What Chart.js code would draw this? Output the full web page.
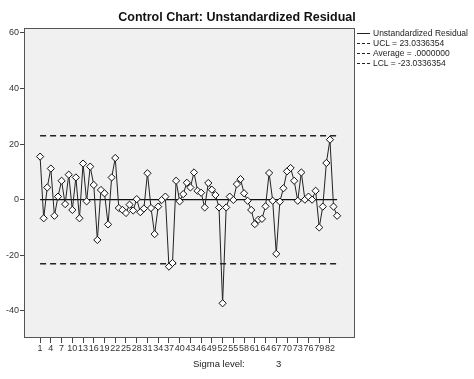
<!DOCTYPE html>
<html><head><meta charset="utf-8">
<script src="https://cdn.jsdelivr.net/npm/chart.js@4"></script>
<style>
html,body{margin:0;padding:0;background:#fff;}
#wrap{position:relative;width:474px;height:379px;font-family:"Liberation Sans",Arial,sans-serif;color:#222;}
canvas{position:absolute;left:0;top:0;}
#title{position:absolute;left:0;width:474px;top:10px;text-align:center;font-weight:bold;font-size:12.5px;color:#111;}
#legend{position:absolute;left:357px;top:28px;font-size:8.5px;line-height:10px;}
#legend div{white-space:nowrap;display:flex;align-items:center;}
#legend span.s{display:inline-block;width:13px;margin-right:3px;border-top:1.5px solid #222;}
#legend span.d{display:inline-block;width:13px;margin-right:3px;border-top:1.5px dashed #222;}
#sigma{position:absolute;left:193px;top:358px;font-size:9.5px;}
#sigv{position:absolute;left:276px;top:358px;font-size:9.5px;}
</style></head>
<body><div id="wrap">
<canvas id="c" width="474" height="379"></canvas>
<div id="title">Control Chart: Unstandardized Residual</div>
<div id="legend">
<div><span class="s"></span>Unstandardized Residual</div>
<div><span class="d"></span>UCL = 23.0336354</div>
<div><span class="d"></span>Average = .0000000</div>
<div><span class="d"></span>LCL = -23.0336354</div>
</div>
<div id="sigma">Sigma level:</div>
<div id="sigv">3</div>
</div>
<script>
const residuals = [15.5,-6.7,4.4,11.2,-5.8,1.1,6.8,-1.6,9.0,-3.7,8.0,-6.7,13.0,-0.6,11.9,5.3,-14.5,3.5,2.3,-8.9,
8.0,15.0,-3.0,-3.7,-4.8,-1.8,-3.9,0.2,-4.5,-3.2,9.5,-3.0,-12.4,-2.5,-0.1,1.1,-24.1,-22.8,6.8,-0.6,
2.0,6.1,4.4,9.8,3.2,2.5,-2.8,6.0,3.6,1.7,-2.8,-37.3,-2.8,1.1,-0.1,5.6,7.4,2.3,-0.4,-3.7,
-8.8,-7.2,-6.9,-2.4,9.6,-0.4,-19.5,-0.7,4.1,10.2,11.4,6.8,-0.4,9.8,0,1.1,0,3.2,-10.0,-2.5,
13.2,21.6,-2.5,-5.8];
const ucl = 23.0336354, avg = 0, lcl = -23.0336354;
const xTickLabels = [1,4,7,10,13,16,19,22,25,28,31,34,37,40,43,46,49,52,55,58,61,64,67,70,73,76,79,82];
const yTickLabels = [60,40,20,0,-20,-40];

const n = residuals.length;
const resData = residuals.map((v,i)=>({x:i+1,y:v}));
const hline = v => [{x:1,y:v},{x:n,y:v}];

const bgPlugin = {
  id:'bg',
  beforeDraw(chart){
    const {ctx,chartArea:a} = chart;
    ctx.save();
    ctx.fillStyle = '#f0f0f0';
    ctx.fillRect(a.left,a.top,a.right-a.left,a.bottom-a.top);
    ctx.restore();
  },
  afterDraw(chart){
    const {ctx,chartArea:a} = chart;
    ctx.save();
    ctx.strokeStyle = '#555';
    ctx.lineWidth = 1;
    ctx.strokeRect(a.left+0.5,a.top+0.5,a.right-a.left-1,a.bottom-a.top-1);
    ctx.restore();
  }
};

new Chart(document.getElementById('c'),{
  type:'line',
  data:{datasets:[
    {data:resData,borderColor:'#222',borderWidth:1,pointStyle:'rectRot',pointRadius:3.6,
     pointBackgroundColor:'#fff',pointBorderColor:'#111',pointBorderWidth:1,tension:0,order:0},
    {data:hline(ucl),borderColor:'#222',borderWidth:1.5,borderDash:[6,4],pointRadius:0,order:1},
    {data:hline(avg),borderColor:'#111',borderWidth:1.2,pointRadius:0,order:1},
    {data:hline(lcl),borderColor:'#222',borderWidth:1.5,borderDash:[6,4],pointRadius:0,order:1}
  ]},
  options:{
    responsive:false,animation:false,
    layout:{padding:{left:0,right:119,top:28,bottom:27}},
    plugins:{legend:{display:false},tooltip:{enabled:false}},
    scales:{
      x:{type:'linear',min:-3.5,max:89,
        afterBuildTicks(s){s.ticks = xTickLabels.map(v=>({value:v}));},
        afterFit(s){s.height = 14;},
        grid:{drawOnChartArea:false,drawTicks:true,tickLength:5,color:'#444'},
        border:{display:false},
        ticks:{autoSkip:false,maxRotation:0,padding:0,color:'#333',font:{family:'Liberation Sans, Arial',size:9}}
      },
      y:{type:'linear',min:-49.8,max:61.8,
        afterBuildTicks(s){s.ticks = yTickLabels.map(v=>({value:v}));},
        afterFit(s){s.width = 24;},
        grid:{drawOnChartArea:false,drawTicks:true,tickLength:4,color:'#444'},
        border:{display:false},
        ticks:{padding:1,color:'#333',font:{family:'Liberation Sans, Arial',size:9}}
      }
    }
  },
  plugins:[bgPlugin]
});
</script>
</body></html>
